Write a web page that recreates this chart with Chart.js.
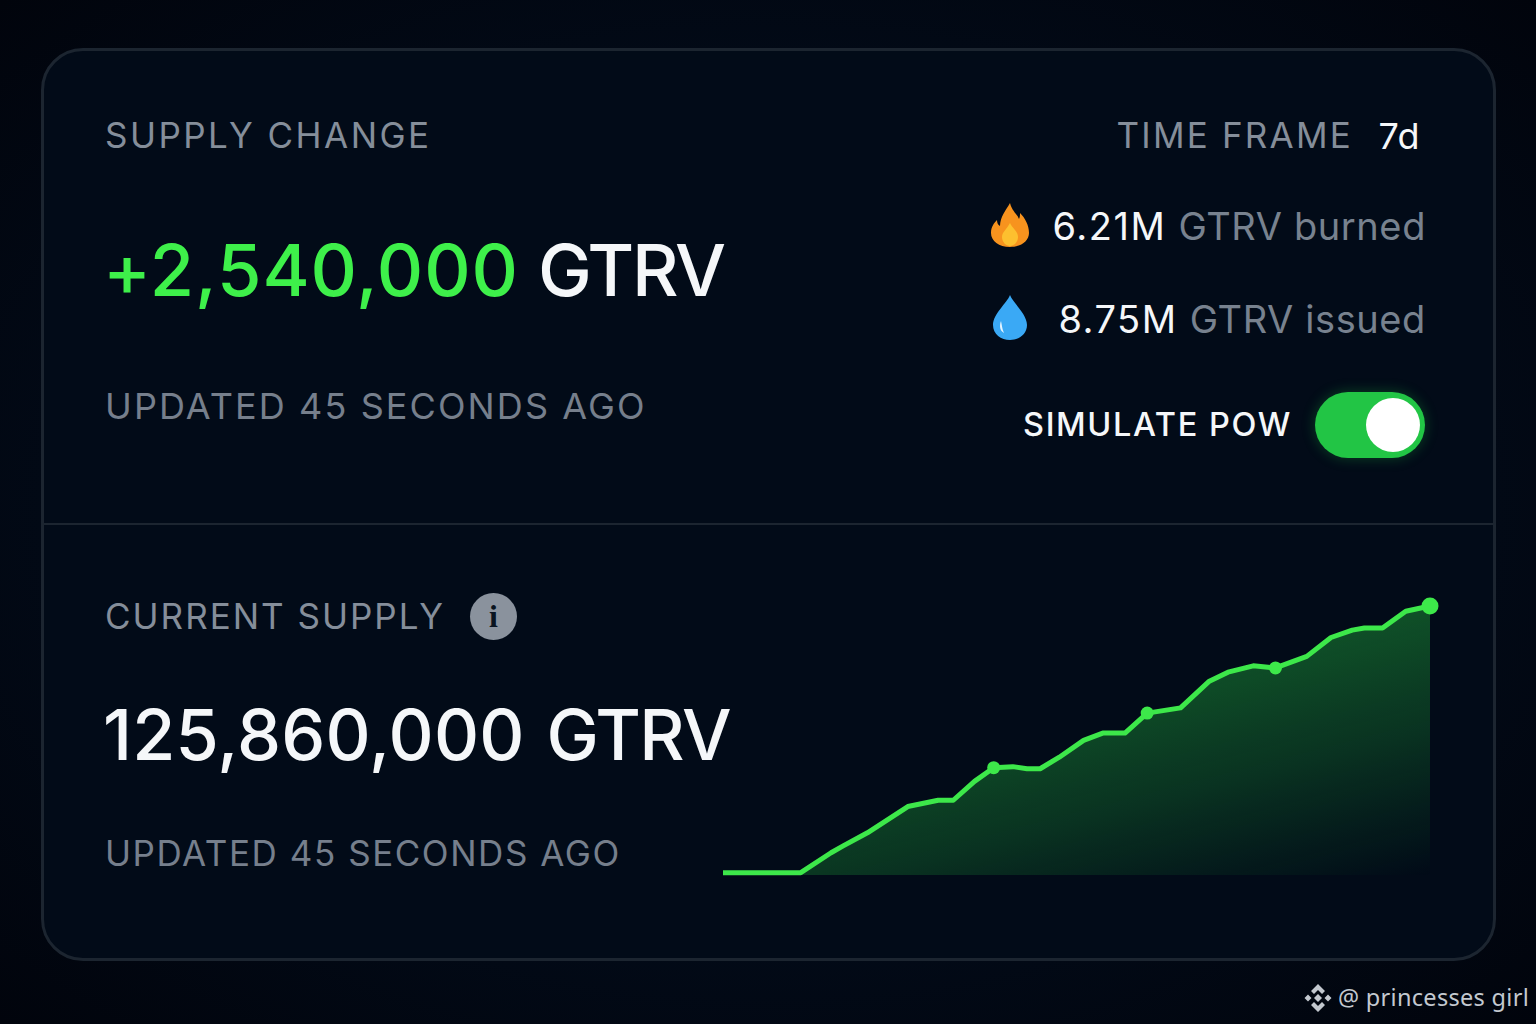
<!DOCTYPE html>
<html>
<head>
<meta charset="utf-8">
<script src="https://cdn.jsdelivr.net/npm/chart.js@4"></script>
<style>
html,body{margin:0;padding:0;width:1536px;height:1024px;overflow:hidden;background:#01060f;font-family:Inter,"Noto Sans",sans-serif;}
#page{position:absolute;left:0;top:0;width:1536px;height:1024px;background:radial-gradient(ellipse at center,#020a17 60%,#01040c 100%);}
#card{position:absolute;left:41px;top:48px;width:1449px;height:907px;border:3px solid #1c2530;border-radius:42px;background:#020b18;}
#divider{position:absolute;left:43px;top:523px;width:1451px;height:2px;background:#1c2530;}
.t{position:absolute;white-space:nowrap;line-height:1;}
.lab{color:#858e9a;font-size:35px;letter-spacing:2.2px;}
.dim{color:#767f8c;font-size:36px;}
.w{color:#f5f7f9;}
.g{color:#3ef04a;}
.stat{font-size:38px;letter-spacing:1.5px;color:#f5f7f9;}
.stat span{color:#78828f;letter-spacing:.6px;}
#toggle{position:absolute;left:1315px;top:392px;width:110px;height:66px;border-radius:33px;background:#22c545;box-shadow:0 0 14px rgba(34,197,69,.3);}
#knob{position:absolute;left:51px;top:6px;width:54px;height:54px;border-radius:50%;background:#fff;}
#info{position:absolute;left:470px;top:593px;width:47px;height:47px;border-radius:50%;background:#8a929d;color:#0a1420;font:bold 32px/47px "Liberation Serif",serif;text-align:center;}
#chartBox{position:absolute;left:711px;top:594px;width:731px;height:293px;}
svg{position:absolute;}
</style>
</head>
<body>
<div id="page"></div>
<div id="card"></div>
<div id="divider"></div>

<div class="t lab" style="left:105px;top:118px;letter-spacing:2.45px;">SUPPLY CHANGE</div>
<div class="t" style="left:103px;top:234px;font-size:72px;font-weight:500;"><span class="g" style="letter-spacing:.9px;">+2,540,000</span> <span class="w" style="letter-spacing:-2.4px;">GTRV</span></div>
<div class="t dim" style="left:105px;top:388px;letter-spacing:2.1px;">UPDATED 45 SECONDS AGO</div>

<div class="t lab" style="right:183px;top:118px;">TIME FRAME</div>
<div class="t w" style="right:116px;top:118px;font-size:36px;letter-spacing:.5px;">7d</div>

<svg style="left:990px;top:202px" width="40" height="46" viewBox="0 0 40 46">
<path d="M20 1c2 8 7 11 9 16 1-2 1-4 1-6 5 5 9 12 9 20 0 8-8 14-19 14S1 39 1 31c0-6 3-10 6-13 0 3 1 5 3 6 0-9 6-16 10-23z" fill="#f7931e"/>
<path d="M20 21c2 5 8 8 8 14 0 5-4 9-8 9s-8-4-8-9c0-5 5-8 8-14z" fill="#fdc02f"/>
</svg>
<div class="t stat" style="right:110px;top:207px;">6.21M <span>GTRV burned</span></div>

<svg style="left:992px;top:294px" width="36" height="47" viewBox="0 0 36 47">
<path d="M18 1c3 8 17 19 17 30 0 9-8 15-17 15S1 40 1 31C1 20 15 9 18 1z" fill="#3aa9f5"/>
<path d="M9 27c-2 5-1 10 3 12-2-4-2-8-3-12z" fill="#e6f4ff"/>
</svg>
<div class="t stat" style="right:110px;top:300px;">8.75M <span>GTRV issued</span></div>

<div class="t w" style="right:244px;top:409px;font-size:32.5px;letter-spacing:1.6px;font-weight:450;">SIMULATE POW</div>
<div id="toggle"><div id="knob"></div></div>

<div class="t lab" style="left:105px;top:599px;letter-spacing:2px;">CURRENT SUPPLY</div>
<div id="info">i</div>
<div class="t w" style="left:103px;top:700px;font-size:70px;font-weight:500;"><span style="letter-spacing:.2px;">125,860,000</span> <span style="letter-spacing:-1.5px;margin-left:3px;">GTRV</span></div>
<div class="t dim" style="left:105px;top:836px;font-size:35px;letter-spacing:1.55px;">UPDATED 45 SECONDS AGO</div>

<div id="chartBox"><canvas id="c"></canvas></div>

<svg style="left:1304px;top:984px" width="28" height="28" viewBox="0 0 28 28" fill="#c3c8cf">
<path d="M14 0l7 7-3 3-4-4-4 4-3-3zM14 28l-7-7 3-3 4 4 4-4 3 3zM14 10l4 4-4 4-4-4zM4 10.500l3.500 3.500L4 17.500.5 14zM24 10.500l3.500 3.500-3.500 3.500-3.500-3.500z"/>
</svg>
<div class="t" style="left:1338px;top:986px;font:23.5px/1 'Noto Sans',sans-serif;color:#c3c8cf;letter-spacing:.3px;">@ princesses girl</div>

<script>
const days = [0,0.77,1.07,1.19,1.43,1.83,2.13,2.28,2.49,2.68,2.87,3.01,3.14,3.33,3.57,3.76,3.98,4.2,4.53,4.81,5.0,5.25,5.47,5.78,6.02,6.23,6.35,6.53,6.76,7];
const supplyM = [123.32,123.32,123.51,123.575,123.70,123.95,124.01,124.01,124.19,124.32,124.33,124.31,124.31,124.42,124.58,124.65,124.65,124.84,124.89,125.14,125.23,125.29,125.27,125.38,125.56,125.63,125.65,125.65,125.81,125.86];
const markerDays = [2.68,4.2,5.47];
const lastDay = 7;

const ctx = document.getElementById('c').getContext('2d');
new Chart(ctx,{
  type:'line',
  data:{labels:days,datasets:[{
    data:days.map((d,i)=>({x:d,y:supplyM[i]})),
    borderColor:'#3de84a',
    borderWidth:5,
    tension:0,
    borderJoinStyle:'round',
    clip:false,
    fill:'start',
    backgroundColor(c){
      const a=c.chart.chartArea;
      if(!a) return 'transparent';
      const g=c.chart.ctx.createLinearGradient(a.right-70,a.top,a.right,a.bottom);
      g.addColorStop(0,'rgba(36,190,65,.42)');
      g.addColorStop(.5,'rgba(34,175,62,.24)');
      g.addColorStop(.85,'rgba(30,160,58,.08)');
      g.addColorStop(1,'rgba(30,160,58,0)');
      return g;
    },
    pointRadius:days.map(d=>d===lastDay?8.5:(markerDays.includes(d)?6.5:0)),
    pointBackgroundColor:'#3de84a',
    pointBorderWidth:0
  }]},
  options:{
    responsive:true,maintainAspectRatio:false,animation:false,
    layout:{padding:{left:12,right:12,top:12,bottom:12}},
    plugins:{legend:{display:false},tooltip:{enabled:false}},
    scales:{
      x:{type:'linear',display:false,min:0,max:7},
      y:{type:'linear',display:false,min:123.298,max:125.86}
    }
  }
});
</script>
</body>
</html>
